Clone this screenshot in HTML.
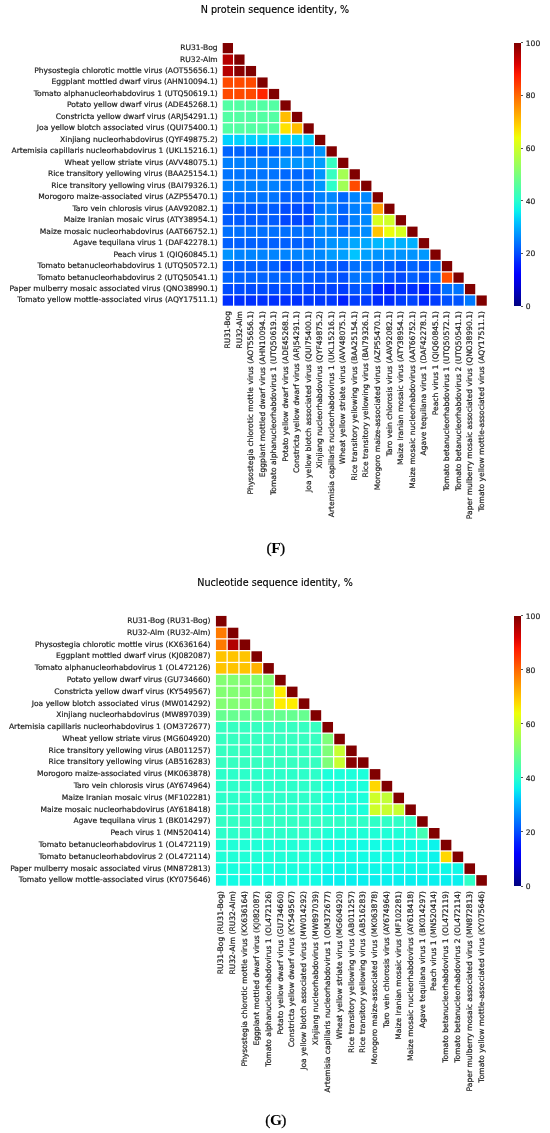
<!DOCTYPE html>
<html lang="en"><head><meta charset="utf-8"><title>Sequence identity heatmaps</title>
<style>
html,body{margin:0;padding:0;background:#fff;}
body{width:550px;height:1133px;position:relative;overflow:hidden;font-family:"DejaVu Sans","Liberation Sans",sans-serif;color:#1a1a1a;}
.t{position:absolute;white-space:nowrap;line-height:1;}
.title{font-size:9.6px;color:#000;-webkit-text-stroke:0.15px #000;text-align:center;left:0;width:550px;}
.yl{font-size:7.57px;-webkit-text-stroke:0.18px #1a1a1a;text-align:right;left:0;}
.xl{font-size:7.57px;-webkit-text-stroke:0.18px #1a1a1a;transform-origin:0 0;transform:rotate(-90deg);text-align:right;}
.cb{position:absolute;}
.tk{position:absolute;background:#555;height:0.7px;width:2.4px;}
.cl{font-size:7.57px;-webkit-text-stroke:0.18px #1a1a1a;}
.cap{font-family:"Liberation Serif","DejaVu Serif",serif;font-size:15.4px;text-align:center;left:0.6px;width:550px;color:#000;letter-spacing:-0.55px;}
.cap span{-webkit-text-stroke:0.25px #000;}
svg{position:absolute;left:0;top:0;}
</style></head><body>

<div class="t title" style="top:5.2px">N protein sequence identity, %</div>
<svg width="550" height="1133" viewBox="0 0 550 1133" style="pointer-events:none">
<rect x="222.72" y="43.02" width="10.28" height="10.22" fill="#800000"/>
<rect x="222.72" y="54.50" width="10.28" height="10.22" fill="#b60000"/>
<rect x="234.26" y="54.50" width="10.28" height="10.22" fill="#800000"/>
<rect x="222.72" y="65.97" width="10.28" height="10.22" fill="#b60000"/>
<rect x="234.26" y="65.97" width="10.28" height="10.22" fill="#890000"/>
<rect x="245.79" y="65.97" width="10.28" height="10.22" fill="#800000"/>
<rect x="222.72" y="77.45" width="10.28" height="10.22" fill="#ff4a00"/>
<rect x="234.26" y="77.45" width="10.28" height="10.22" fill="#ff4a00"/>
<rect x="245.79" y="77.45" width="10.28" height="10.22" fill="#ff4a00"/>
<rect x="257.33" y="77.45" width="10.28" height="10.22" fill="#800000"/>
<rect x="222.72" y="88.92" width="10.28" height="10.22" fill="#ff4a00"/>
<rect x="234.26" y="88.92" width="10.28" height="10.22" fill="#ff4a00"/>
<rect x="245.79" y="88.92" width="10.28" height="10.22" fill="#ff4a00"/>
<rect x="257.33" y="88.92" width="10.28" height="10.22" fill="#ff2500"/>
<rect x="268.86" y="88.92" width="10.28" height="10.22" fill="#800000"/>
<rect x="222.72" y="100.39" width="10.28" height="10.22" fill="#53ffa4"/>
<rect x="234.26" y="100.39" width="10.28" height="10.22" fill="#53ffa4"/>
<rect x="245.79" y="100.39" width="10.28" height="10.22" fill="#53ffa4"/>
<rect x="257.33" y="100.39" width="10.28" height="10.22" fill="#53ffa4"/>
<rect x="268.86" y="100.39" width="10.28" height="10.22" fill="#53ffa4"/>
<rect x="280.40" y="100.39" width="10.28" height="10.22" fill="#800000"/>
<rect x="222.72" y="111.87" width="10.28" height="10.22" fill="#53ffa4"/>
<rect x="234.26" y="111.87" width="10.28" height="10.22" fill="#53ffa4"/>
<rect x="245.79" y="111.87" width="10.28" height="10.22" fill="#53ffa4"/>
<rect x="257.33" y="111.87" width="10.28" height="10.22" fill="#53ffa4"/>
<rect x="268.86" y="111.87" width="10.28" height="10.22" fill="#53ffa4"/>
<rect x="280.40" y="111.87" width="10.28" height="10.22" fill="#ffbd00"/>
<rect x="291.93" y="111.87" width="10.28" height="10.22" fill="#800000"/>
<rect x="222.72" y="123.34" width="10.28" height="10.22" fill="#53ffa4"/>
<rect x="234.26" y="123.34" width="10.28" height="10.22" fill="#53ffa4"/>
<rect x="245.79" y="123.34" width="10.28" height="10.22" fill="#53ffa4"/>
<rect x="257.33" y="123.34" width="10.28" height="10.22" fill="#53ffa4"/>
<rect x="268.86" y="123.34" width="10.28" height="10.22" fill="#53ffa4"/>
<rect x="280.40" y="123.34" width="10.28" height="10.22" fill="#ffe200"/>
<rect x="291.93" y="123.34" width="10.28" height="10.22" fill="#ffbd00"/>
<rect x="303.47" y="123.34" width="10.28" height="10.22" fill="#800000"/>
<rect x="222.72" y="134.82" width="10.28" height="10.22" fill="#00d0ff"/>
<rect x="234.26" y="134.82" width="10.28" height="10.22" fill="#00d0ff"/>
<rect x="245.79" y="134.82" width="10.28" height="10.22" fill="#00d0ff"/>
<rect x="257.33" y="134.82" width="10.28" height="10.22" fill="#00d0ff"/>
<rect x="268.86" y="134.82" width="10.28" height="10.22" fill="#00d0ff"/>
<rect x="280.40" y="134.82" width="10.28" height="10.22" fill="#00d0ff"/>
<rect x="291.93" y="134.82" width="10.28" height="10.22" fill="#00d0ff"/>
<rect x="303.47" y="134.82" width="10.28" height="10.22" fill="#00d0ff"/>
<rect x="315.00" y="134.82" width="10.28" height="10.22" fill="#800000"/>
<rect x="222.72" y="146.29" width="10.28" height="10.22" fill="#0064ff"/>
<rect x="234.26" y="146.29" width="10.28" height="10.22" fill="#0064ff"/>
<rect x="245.79" y="146.29" width="10.28" height="10.22" fill="#0064ff"/>
<rect x="257.33" y="146.29" width="10.28" height="10.22" fill="#0064ff"/>
<rect x="268.86" y="146.29" width="10.28" height="10.22" fill="#0064ff"/>
<rect x="280.40" y="146.29" width="10.28" height="10.22" fill="#0074ff"/>
<rect x="291.93" y="146.29" width="10.28" height="10.22" fill="#0074ff"/>
<rect x="303.47" y="146.29" width="10.28" height="10.22" fill="#0074ff"/>
<rect x="315.00" y="146.29" width="10.28" height="10.22" fill="#0094ff"/>
<rect x="326.54" y="146.29" width="10.28" height="10.22" fill="#800000"/>
<rect x="222.72" y="157.76" width="10.28" height="10.22" fill="#0080ff"/>
<rect x="234.26" y="157.76" width="10.28" height="10.22" fill="#0080ff"/>
<rect x="245.79" y="157.76" width="10.28" height="10.22" fill="#0080ff"/>
<rect x="257.33" y="157.76" width="10.28" height="10.22" fill="#0080ff"/>
<rect x="268.86" y="157.76" width="10.28" height="10.22" fill="#0080ff"/>
<rect x="280.40" y="157.76" width="10.28" height="10.22" fill="#0094ff"/>
<rect x="291.93" y="157.76" width="10.28" height="10.22" fill="#0094ff"/>
<rect x="303.47" y="157.76" width="10.28" height="10.22" fill="#0094ff"/>
<rect x="315.00" y="157.76" width="10.28" height="10.22" fill="#009cff"/>
<rect x="326.54" y="157.76" width="10.28" height="10.22" fill="#36ffc1"/>
<rect x="338.07" y="157.76" width="10.28" height="10.22" fill="#800000"/>
<rect x="222.72" y="169.24" width="10.28" height="10.22" fill="#0074ff"/>
<rect x="234.26" y="169.24" width="10.28" height="10.22" fill="#0074ff"/>
<rect x="245.79" y="169.24" width="10.28" height="10.22" fill="#0074ff"/>
<rect x="257.33" y="169.24" width="10.28" height="10.22" fill="#0074ff"/>
<rect x="268.86" y="169.24" width="10.28" height="10.22" fill="#0074ff"/>
<rect x="280.40" y="169.24" width="10.28" height="10.22" fill="#0068ff"/>
<rect x="291.93" y="169.24" width="10.28" height="10.22" fill="#0068ff"/>
<rect x="303.47" y="169.24" width="10.28" height="10.22" fill="#0068ff"/>
<rect x="315.00" y="169.24" width="10.28" height="10.22" fill="#0094ff"/>
<rect x="326.54" y="169.24" width="10.28" height="10.22" fill="#36ffc1"/>
<rect x="338.07" y="169.24" width="10.28" height="10.22" fill="#a4ff53"/>
<rect x="349.61" y="169.24" width="10.28" height="10.22" fill="#800000"/>
<rect x="222.72" y="180.71" width="10.28" height="10.22" fill="#0080ff"/>
<rect x="234.26" y="180.71" width="10.28" height="10.22" fill="#0080ff"/>
<rect x="245.79" y="180.71" width="10.28" height="10.22" fill="#0080ff"/>
<rect x="257.33" y="180.71" width="10.28" height="10.22" fill="#0080ff"/>
<rect x="268.86" y="180.71" width="10.28" height="10.22" fill="#0080ff"/>
<rect x="280.40" y="180.71" width="10.28" height="10.22" fill="#0074ff"/>
<rect x="291.93" y="180.71" width="10.28" height="10.22" fill="#0074ff"/>
<rect x="303.47" y="180.71" width="10.28" height="10.22" fill="#0074ff"/>
<rect x="315.00" y="180.71" width="10.28" height="10.22" fill="#0094ff"/>
<rect x="326.54" y="180.71" width="10.28" height="10.22" fill="#2cffca"/>
<rect x="338.07" y="180.71" width="10.28" height="10.22" fill="#a0ff56"/>
<rect x="349.61" y="180.71" width="10.28" height="10.22" fill="#ff4a00"/>
<rect x="361.14" y="180.71" width="10.28" height="10.22" fill="#800000"/>
<rect x="222.72" y="192.19" width="10.28" height="10.22" fill="#0074ff"/>
<rect x="234.26" y="192.19" width="10.28" height="10.22" fill="#0074ff"/>
<rect x="245.79" y="192.19" width="10.28" height="10.22" fill="#0074ff"/>
<rect x="257.33" y="192.19" width="10.28" height="10.22" fill="#0074ff"/>
<rect x="268.86" y="192.19" width="10.28" height="10.22" fill="#0074ff"/>
<rect x="280.40" y="192.19" width="10.28" height="10.22" fill="#0060ff"/>
<rect x="291.93" y="192.19" width="10.28" height="10.22" fill="#0060ff"/>
<rect x="303.47" y="192.19" width="10.28" height="10.22" fill="#0060ff"/>
<rect x="315.00" y="192.19" width="10.28" height="10.22" fill="#0080ff"/>
<rect x="326.54" y="192.19" width="10.28" height="10.22" fill="#0088ff"/>
<rect x="338.07" y="192.19" width="10.28" height="10.22" fill="#0068ff"/>
<rect x="349.61" y="192.19" width="10.28" height="10.22" fill="#0084ff"/>
<rect x="361.14" y="192.19" width="10.28" height="10.22" fill="#0088ff"/>
<rect x="372.68" y="192.19" width="10.28" height="10.22" fill="#800000"/>
<rect x="222.72" y="203.66" width="10.28" height="10.22" fill="#005cff"/>
<rect x="234.26" y="203.66" width="10.28" height="10.22" fill="#005cff"/>
<rect x="245.79" y="203.66" width="10.28" height="10.22" fill="#005cff"/>
<rect x="257.33" y="203.66" width="10.28" height="10.22" fill="#005cff"/>
<rect x="268.86" y="203.66" width="10.28" height="10.22" fill="#005cff"/>
<rect x="280.40" y="203.66" width="10.28" height="10.22" fill="#004cff"/>
<rect x="291.93" y="203.66" width="10.28" height="10.22" fill="#004cff"/>
<rect x="303.47" y="203.66" width="10.28" height="10.22" fill="#004cff"/>
<rect x="315.00" y="203.66" width="10.28" height="10.22" fill="#0078ff"/>
<rect x="326.54" y="203.66" width="10.28" height="10.22" fill="#0084ff"/>
<rect x="338.07" y="203.66" width="10.28" height="10.22" fill="#0064ff"/>
<rect x="349.61" y="203.66" width="10.28" height="10.22" fill="#0080ff"/>
<rect x="361.14" y="203.66" width="10.28" height="10.22" fill="#0080ff"/>
<rect x="372.68" y="203.66" width="10.28" height="10.22" fill="#ff9f00"/>
<rect x="384.21" y="203.66" width="10.28" height="10.22" fill="#800000"/>
<rect x="222.72" y="215.13" width="10.28" height="10.22" fill="#005cff"/>
<rect x="234.26" y="215.13" width="10.28" height="10.22" fill="#005cff"/>
<rect x="245.79" y="215.13" width="10.28" height="10.22" fill="#005cff"/>
<rect x="257.33" y="215.13" width="10.28" height="10.22" fill="#005cff"/>
<rect x="268.86" y="215.13" width="10.28" height="10.22" fill="#005cff"/>
<rect x="280.40" y="215.13" width="10.28" height="10.22" fill="#0048ff"/>
<rect x="291.93" y="215.13" width="10.28" height="10.22" fill="#0048ff"/>
<rect x="303.47" y="215.13" width="10.28" height="10.22" fill="#0048ff"/>
<rect x="315.00" y="215.13" width="10.28" height="10.22" fill="#008cff"/>
<rect x="326.54" y="215.13" width="10.28" height="10.22" fill="#0088ff"/>
<rect x="338.07" y="215.13" width="10.28" height="10.22" fill="#005cff"/>
<rect x="349.61" y="215.13" width="10.28" height="10.22" fill="#0080ff"/>
<rect x="361.14" y="215.13" width="10.28" height="10.22" fill="#0088ff"/>
<rect x="372.68" y="215.13" width="10.28" height="10.22" fill="#d7ff1f"/>
<rect x="384.21" y="215.13" width="10.28" height="10.22" fill="#ceff29"/>
<rect x="395.75" y="215.13" width="10.28" height="10.22" fill="#800000"/>
<rect x="222.72" y="226.61" width="10.28" height="10.22" fill="#0070ff"/>
<rect x="234.26" y="226.61" width="10.28" height="10.22" fill="#0070ff"/>
<rect x="245.79" y="226.61" width="10.28" height="10.22" fill="#0070ff"/>
<rect x="257.33" y="226.61" width="10.28" height="10.22" fill="#0070ff"/>
<rect x="268.86" y="226.61" width="10.28" height="10.22" fill="#0070ff"/>
<rect x="280.40" y="226.61" width="10.28" height="10.22" fill="#0070ff"/>
<rect x="291.93" y="226.61" width="10.28" height="10.22" fill="#0070ff"/>
<rect x="303.47" y="226.61" width="10.28" height="10.22" fill="#0070ff"/>
<rect x="315.00" y="226.61" width="10.28" height="10.22" fill="#0088ff"/>
<rect x="326.54" y="226.61" width="10.28" height="10.22" fill="#0084ff"/>
<rect x="338.07" y="226.61" width="10.28" height="10.22" fill="#0070ff"/>
<rect x="349.61" y="226.61" width="10.28" height="10.22" fill="#0088ff"/>
<rect x="361.14" y="226.61" width="10.28" height="10.22" fill="#008cff"/>
<rect x="372.68" y="226.61" width="10.28" height="10.22" fill="#ffc400"/>
<rect x="384.21" y="226.61" width="10.28" height="10.22" fill="#ebff0c"/>
<rect x="395.75" y="226.61" width="10.28" height="10.22" fill="#d7ff1f"/>
<rect x="407.28" y="226.61" width="10.28" height="10.22" fill="#800000"/>
<rect x="222.72" y="238.08" width="10.28" height="10.22" fill="#0060ff"/>
<rect x="234.26" y="238.08" width="10.28" height="10.22" fill="#0060ff"/>
<rect x="245.79" y="238.08" width="10.28" height="10.22" fill="#0060ff"/>
<rect x="257.33" y="238.08" width="10.28" height="10.22" fill="#0060ff"/>
<rect x="268.86" y="238.08" width="10.28" height="10.22" fill="#0060ff"/>
<rect x="280.40" y="238.08" width="10.28" height="10.22" fill="#0060ff"/>
<rect x="291.93" y="238.08" width="10.28" height="10.22" fill="#0060ff"/>
<rect x="303.47" y="238.08" width="10.28" height="10.22" fill="#0060ff"/>
<rect x="315.00" y="238.08" width="10.28" height="10.22" fill="#0080ff"/>
<rect x="326.54" y="238.08" width="10.28" height="10.22" fill="#0094ff"/>
<rect x="338.07" y="238.08" width="10.28" height="10.22" fill="#0098ff"/>
<rect x="349.61" y="238.08" width="10.28" height="10.22" fill="#00a8ff"/>
<rect x="361.14" y="238.08" width="10.28" height="10.22" fill="#00a8ff"/>
<rect x="372.68" y="238.08" width="10.28" height="10.22" fill="#00b8ff"/>
<rect x="384.21" y="238.08" width="10.28" height="10.22" fill="#00b8ff"/>
<rect x="395.75" y="238.08" width="10.28" height="10.22" fill="#00b0ff"/>
<rect x="407.28" y="238.08" width="10.28" height="10.22" fill="#00b0ff"/>
<rect x="418.82" y="238.08" width="10.28" height="10.22" fill="#800000"/>
<rect x="222.72" y="249.56" width="10.28" height="10.22" fill="#0094ff"/>
<rect x="234.26" y="249.56" width="10.28" height="10.22" fill="#0084ff"/>
<rect x="245.79" y="249.56" width="10.28" height="10.22" fill="#0084ff"/>
<rect x="257.33" y="249.56" width="10.28" height="10.22" fill="#0084ff"/>
<rect x="268.86" y="249.56" width="10.28" height="10.22" fill="#0084ff"/>
<rect x="280.40" y="249.56" width="10.28" height="10.22" fill="#0084ff"/>
<rect x="291.93" y="249.56" width="10.28" height="10.22" fill="#0084ff"/>
<rect x="303.47" y="249.56" width="10.28" height="10.22" fill="#0084ff"/>
<rect x="315.00" y="249.56" width="10.28" height="10.22" fill="#0088ff"/>
<rect x="326.54" y="249.56" width="10.28" height="10.22" fill="#009cff"/>
<rect x="338.07" y="249.56" width="10.28" height="10.22" fill="#00a0ff"/>
<rect x="349.61" y="249.56" width="10.28" height="10.22" fill="#00c4ff"/>
<rect x="361.14" y="249.56" width="10.28" height="10.22" fill="#00a0ff"/>
<rect x="372.68" y="249.56" width="10.28" height="10.22" fill="#0094ff"/>
<rect x="384.21" y="249.56" width="10.28" height="10.22" fill="#0094ff"/>
<rect x="395.75" y="249.56" width="10.28" height="10.22" fill="#0094ff"/>
<rect x="407.28" y="249.56" width="10.28" height="10.22" fill="#0094ff"/>
<rect x="418.82" y="249.56" width="10.28" height="10.22" fill="#0098ff"/>
<rect x="430.35" y="249.56" width="10.28" height="10.22" fill="#800000"/>
<rect x="222.72" y="261.03" width="10.28" height="10.22" fill="#0060ff"/>
<rect x="234.26" y="261.03" width="10.28" height="10.22" fill="#0060ff"/>
<rect x="245.79" y="261.03" width="10.28" height="10.22" fill="#0060ff"/>
<rect x="257.33" y="261.03" width="10.28" height="10.22" fill="#0060ff"/>
<rect x="268.86" y="261.03" width="10.28" height="10.22" fill="#0060ff"/>
<rect x="280.40" y="261.03" width="10.28" height="10.22" fill="#0044ff"/>
<rect x="291.93" y="261.03" width="10.28" height="10.22" fill="#0050ff"/>
<rect x="303.47" y="261.03" width="10.28" height="10.22" fill="#0060ff"/>
<rect x="315.00" y="261.03" width="10.28" height="10.22" fill="#0060ff"/>
<rect x="326.54" y="261.03" width="10.28" height="10.22" fill="#0060ff"/>
<rect x="338.07" y="261.03" width="10.28" height="10.22" fill="#0054ff"/>
<rect x="349.61" y="261.03" width="10.28" height="10.22" fill="#0070ff"/>
<rect x="361.14" y="261.03" width="10.28" height="10.22" fill="#0070ff"/>
<rect x="372.68" y="261.03" width="10.28" height="10.22" fill="#0064ff"/>
<rect x="384.21" y="261.03" width="10.28" height="10.22" fill="#005cff"/>
<rect x="395.75" y="261.03" width="10.28" height="10.22" fill="#0050ff"/>
<rect x="407.28" y="261.03" width="10.28" height="10.22" fill="#0064ff"/>
<rect x="418.82" y="261.03" width="10.28" height="10.22" fill="#0054ff"/>
<rect x="430.35" y="261.03" width="10.28" height="10.22" fill="#0070ff"/>
<rect x="441.89" y="261.03" width="10.28" height="10.22" fill="#800000"/>
<rect x="222.72" y="272.50" width="10.28" height="10.22" fill="#0064ff"/>
<rect x="234.26" y="272.50" width="10.28" height="10.22" fill="#0064ff"/>
<rect x="245.79" y="272.50" width="10.28" height="10.22" fill="#0064ff"/>
<rect x="257.33" y="272.50" width="10.28" height="10.22" fill="#0064ff"/>
<rect x="268.86" y="272.50" width="10.28" height="10.22" fill="#0064ff"/>
<rect x="280.40" y="272.50" width="10.28" height="10.22" fill="#0064ff"/>
<rect x="291.93" y="272.50" width="10.28" height="10.22" fill="#0064ff"/>
<rect x="303.47" y="272.50" width="10.28" height="10.22" fill="#005cff"/>
<rect x="315.00" y="272.50" width="10.28" height="10.22" fill="#005cff"/>
<rect x="326.54" y="272.50" width="10.28" height="10.22" fill="#005cff"/>
<rect x="338.07" y="272.50" width="10.28" height="10.22" fill="#0050ff"/>
<rect x="349.61" y="272.50" width="10.28" height="10.22" fill="#0074ff"/>
<rect x="361.14" y="272.50" width="10.28" height="10.22" fill="#0074ff"/>
<rect x="372.68" y="272.50" width="10.28" height="10.22" fill="#0064ff"/>
<rect x="384.21" y="272.50" width="10.28" height="10.22" fill="#0054ff"/>
<rect x="395.75" y="272.50" width="10.28" height="10.22" fill="#004cff"/>
<rect x="407.28" y="272.50" width="10.28" height="10.22" fill="#0060ff"/>
<rect x="418.82" y="272.50" width="10.28" height="10.22" fill="#0050ff"/>
<rect x="430.35" y="272.50" width="10.28" height="10.22" fill="#0070ff"/>
<rect x="441.89" y="272.50" width="10.28" height="10.22" fill="#ff4e00"/>
<rect x="453.42" y="272.50" width="10.28" height="10.22" fill="#800000"/>
<rect x="222.72" y="283.98" width="10.28" height="10.22" fill="#004cff"/>
<rect x="234.26" y="283.98" width="10.28" height="10.22" fill="#004cff"/>
<rect x="245.79" y="283.98" width="10.28" height="10.22" fill="#004cff"/>
<rect x="257.33" y="283.98" width="10.28" height="10.22" fill="#004cff"/>
<rect x="268.86" y="283.98" width="10.28" height="10.22" fill="#004cff"/>
<rect x="280.40" y="283.98" width="10.28" height="10.22" fill="#004cff"/>
<rect x="291.93" y="283.98" width="10.28" height="10.22" fill="#004cff"/>
<rect x="303.47" y="283.98" width="10.28" height="10.22" fill="#0044ff"/>
<rect x="315.00" y="283.98" width="10.28" height="10.22" fill="#0044ff"/>
<rect x="326.54" y="283.98" width="10.28" height="10.22" fill="#0044ff"/>
<rect x="338.07" y="283.98" width="10.28" height="10.22" fill="#003cff"/>
<rect x="349.61" y="283.98" width="10.28" height="10.22" fill="#0054ff"/>
<rect x="361.14" y="283.98" width="10.28" height="10.22" fill="#0054ff"/>
<rect x="372.68" y="283.98" width="10.28" height="10.22" fill="#0028ff"/>
<rect x="384.21" y="283.98" width="10.28" height="10.22" fill="#0020ff"/>
<rect x="395.75" y="283.98" width="10.28" height="10.22" fill="#0030ff"/>
<rect x="407.28" y="283.98" width="10.28" height="10.22" fill="#0030ff"/>
<rect x="418.82" y="283.98" width="10.28" height="10.22" fill="#0020ff"/>
<rect x="430.35" y="283.98" width="10.28" height="10.22" fill="#0044ff"/>
<rect x="441.89" y="283.98" width="10.28" height="10.22" fill="#0070ff"/>
<rect x="453.42" y="283.98" width="10.28" height="10.22" fill="#0074ff"/>
<rect x="464.96" y="283.98" width="10.28" height="10.22" fill="#800000"/>
<rect x="222.72" y="295.45" width="10.28" height="10.22" fill="#0030ff"/>
<rect x="234.26" y="295.45" width="10.28" height="10.22" fill="#0030ff"/>
<rect x="245.79" y="295.45" width="10.28" height="10.22" fill="#0030ff"/>
<rect x="257.33" y="295.45" width="10.28" height="10.22" fill="#0030ff"/>
<rect x="268.86" y="295.45" width="10.28" height="10.22" fill="#0030ff"/>
<rect x="280.40" y="295.45" width="10.28" height="10.22" fill="#0030ff"/>
<rect x="291.93" y="295.45" width="10.28" height="10.22" fill="#0030ff"/>
<rect x="303.47" y="295.45" width="10.28" height="10.22" fill="#0038ff"/>
<rect x="315.00" y="295.45" width="10.28" height="10.22" fill="#0038ff"/>
<rect x="326.54" y="295.45" width="10.28" height="10.22" fill="#0038ff"/>
<rect x="338.07" y="295.45" width="10.28" height="10.22" fill="#0020ff"/>
<rect x="349.61" y="295.45" width="10.28" height="10.22" fill="#003cff"/>
<rect x="361.14" y="295.45" width="10.28" height="10.22" fill="#003cff"/>
<rect x="372.68" y="295.45" width="10.28" height="10.22" fill="#002cff"/>
<rect x="384.21" y="295.45" width="10.28" height="10.22" fill="#002cff"/>
<rect x="395.75" y="295.45" width="10.28" height="10.22" fill="#003cff"/>
<rect x="407.28" y="295.45" width="10.28" height="10.22" fill="#0044ff"/>
<rect x="418.82" y="295.45" width="10.28" height="10.22" fill="#0028ff"/>
<rect x="430.35" y="295.45" width="10.28" height="10.22" fill="#003cff"/>
<rect x="441.89" y="295.45" width="10.28" height="10.22" fill="#0050ff"/>
<rect x="453.42" y="295.45" width="10.28" height="10.22" fill="#0054ff"/>
<rect x="464.96" y="295.45" width="10.28" height="10.22" fill="#0078ff"/>
<rect x="476.49" y="295.45" width="10.28" height="10.22" fill="#800000"/>
</svg>
<div class="t yl" style="top:44.04px;width:217.7px">RU31-Bog</div>
<div class="t yl" style="top:55.51px;width:217.7px">RU32-Alm</div>
<div class="t yl" style="top:66.98px;width:217.7px">Physostegia chlorotic mottle virus (AOT55656.1)</div>
<div class="t yl" style="top:78.46px;width:217.7px">Eggplant mottled dwarf virus (AHN10094.1)</div>
<div class="t yl" style="top:89.93px;width:217.7px">Tomato alphanucleorhabdovirus 1 (UTQ50619.1)</div>
<div class="t yl" style="top:101.41px;width:217.7px">Potato yellow dwarf virus (ADE45268.1)</div>
<div class="t yl" style="top:112.88px;width:217.7px">Constricta yellow dwarf virus (ARJ54291.1)</div>
<div class="t yl" style="top:124.35px;width:217.7px">Joa yellow blotch associated virus (QUI75400.1)</div>
<div class="t yl" style="top:135.83px;width:217.7px">Xinjiang nucleorhabdovirus (QYF49875.2)</div>
<div class="t yl" style="top:147.30px;width:217.7px">Artemisia capillaris nucleorhabdovirus 1 (UKL15216.1)</div>
<div class="t yl" style="top:158.78px;width:217.7px">Wheat yellow striate virus (AVV48075.1)</div>
<div class="t yl" style="top:170.25px;width:217.7px">Rice transitory yellowing virus (BAA25154.1)</div>
<div class="t yl" style="top:181.72px;width:217.7px">Rice transitory yellowing virus (BAI79326.1)</div>
<div class="t yl" style="top:193.20px;width:217.7px">Morogoro maize-associated virus (AZP55470.1)</div>
<div class="t yl" style="top:204.67px;width:217.7px">Taro vein chlorosis virus (AAV92082.1)</div>
<div class="t yl" style="top:216.15px;width:217.7px">Maize Iranian mosaic virus (ATY38954.1)</div>
<div class="t yl" style="top:227.62px;width:217.7px">Maize mosaic nucleorhabdovirus (AAT66752.1)</div>
<div class="t yl" style="top:239.09px;width:217.7px">Agave tequilana virus 1 (DAF42278.1)</div>
<div class="t yl" style="top:250.57px;width:217.7px">Peach virus 1 (QIQ60845.1)</div>
<div class="t yl" style="top:262.04px;width:217.7px">Tomato betanucleorhabdovirus 1 (UTQ50572.1)</div>
<div class="t yl" style="top:273.52px;width:217.7px">Tomato betanucleorhabdovirus 2 (UTQ50541.1)</div>
<div class="t yl" style="top:284.99px;width:217.7px">Paper mulberry mosaic associated virus (QNO38990.1)</div>
<div class="t yl" style="top:296.46px;width:217.7px">Tomato yellow mottle-associated virus (AQY17511.1)</div>
<div class="t xl" style="left:224.07px;top:541.2px;width:230px">RU31-Bog</div>
<div class="t xl" style="left:235.60px;top:541.2px;width:230px">RU32-Alm</div>
<div class="t xl" style="left:247.14px;top:541.2px;width:230px">Physostegia chlorotic mottle virus (AOT55656.1)</div>
<div class="t xl" style="left:258.67px;top:541.2px;width:230px">Eggplant mottled dwarf virus (AHN10094.1)</div>
<div class="t xl" style="left:270.21px;top:541.2px;width:230px">Tomato alphanucleorhabdovirus 1 (UTQ50619.1)</div>
<div class="t xl" style="left:281.74px;top:541.2px;width:230px">Potato yellow dwarf virus (ADE45268.1)</div>
<div class="t xl" style="left:293.28px;top:541.2px;width:230px">Constricta yellow dwarf virus (ARJ54291.1)</div>
<div class="t xl" style="left:304.81px;top:541.2px;width:230px">Joa yellow blotch associated virus (QUI75400.1)</div>
<div class="t xl" style="left:316.35px;top:541.2px;width:230px">Xinjiang nucleorhabdovirus (QYF49875.2)</div>
<div class="t xl" style="left:327.88px;top:541.2px;width:230px">Artemisia capillaris nucleorhabdovirus 1 (UKL15216.1)</div>
<div class="t xl" style="left:339.42px;top:541.2px;width:230px">Wheat yellow striate virus (AVV48075.1)</div>
<div class="t xl" style="left:350.95px;top:541.2px;width:230px">Rice transitory yellowing virus (BAA25154.1)</div>
<div class="t xl" style="left:362.48px;top:541.2px;width:230px">Rice transitory yellowing virus (BAI79326.1)</div>
<div class="t xl" style="left:374.02px;top:541.2px;width:230px">Morogoro maize-associated virus (AZP55470.1)</div>
<div class="t xl" style="left:385.55px;top:541.2px;width:230px">Taro vein chlorosis virus (AAV92082.1)</div>
<div class="t xl" style="left:397.09px;top:541.2px;width:230px">Maize Iranian mosaic virus (ATY38954.1)</div>
<div class="t xl" style="left:408.62px;top:541.2px;width:230px">Maize mosaic nucleorhabdovirus (AAT66752.1)</div>
<div class="t xl" style="left:420.16px;top:541.2px;width:230px">Agave tequilana virus 1 (DAF42278.1)</div>
<div class="t xl" style="left:431.69px;top:541.2px;width:230px">Peach virus 1 (QIQ60845.1)</div>
<div class="t xl" style="left:443.23px;top:541.2px;width:230px">Tomato betanucleorhabdovirus 1 (UTQ50572.1)</div>
<div class="t xl" style="left:454.76px;top:541.2px;width:230px">Tomato betanucleorhabdovirus 2 (UTQ50541.1)</div>
<div class="t xl" style="left:466.30px;top:541.2px;width:230px">Paper mulberry mosaic associated virus (QNO38990.1)</div>
<div class="t xl" style="left:477.83px;top:541.2px;width:230px">Tomato yellow mottle-associated virus (AQY17511.1)</div>
<div class="cb" style="left:513.6px;top:42.6px;width:7.3px;height:263.2px;background:linear-gradient(to bottom,#800000 0%,#ad0000 4%,#da0000 8%,#ff1a00 12%,#ff3f00 16%,#ff6800 20%,#ff8d00 24%,#ffb200 28%,#ffd700 32%,#eeff09 36%,#ceff29 40%,#adff49 44%,#8dff6a 48%,#6aff8d 52%,#49ffad 56%,#29ffce 60%,#09f0ee 64%,#00c4ff 68%,#009cff 72%,#0074ff 76%,#004cff 80%,#0020ff 84%,#0000ff 88%,#0000da 92%,#0000ad 96%,#000080 100%)"></div>
<div class="tk" style="left:520.9px;top:305.5px"></div>
<div class="t cl" style="left:525.8px;top:303.0px">0</div>
<div class="tk" style="left:520.9px;top:252.8px"></div>
<div class="t cl" style="left:525.8px;top:250.3px">20</div>
<div class="tk" style="left:520.9px;top:200.1px"></div>
<div class="t cl" style="left:525.8px;top:197.6px">40</div>
<div class="tk" style="left:520.9px;top:147.5px"></div>
<div class="t cl" style="left:525.8px;top:145.0px">60</div>
<div class="tk" style="left:520.9px;top:94.8px"></div>
<div class="t cl" style="left:525.8px;top:92.3px">80</div>
<div class="tk" style="left:520.9px;top:42.1px"></div>
<div class="t cl" style="left:525.8px;top:39.6px">100</div>
<div class="t cap" style="top:539.6px"><span>(</span><b>F</b><span>)</span></div>
<div class="t title" style="top:577.8px">Nucleotide sequence identity, %</div>
<svg width="550" height="1133" viewBox="0 0 550 1133" style="pointer-events:none">
<rect x="215.93" y="615.92" width="10.58" height="10.53" fill="#800000"/>
<rect x="215.93" y="627.71" width="10.58" height="10.53" fill="#ff7a00"/>
<rect x="227.76" y="627.71" width="10.58" height="10.53" fill="#800000"/>
<rect x="215.93" y="639.49" width="10.58" height="10.53" fill="#ff7a00"/>
<rect x="227.76" y="639.49" width="10.58" height="10.53" fill="#b20000"/>
<rect x="239.59" y="639.49" width="10.58" height="10.53" fill="#800000"/>
<rect x="215.93" y="651.27" width="10.58" height="10.53" fill="#ffc400"/>
<rect x="227.76" y="651.27" width="10.58" height="10.53" fill="#ffc400"/>
<rect x="239.59" y="651.27" width="10.58" height="10.53" fill="#ffc400"/>
<rect x="251.43" y="651.27" width="10.58" height="10.53" fill="#800000"/>
<rect x="215.93" y="663.06" width="10.58" height="10.53" fill="#ffc400"/>
<rect x="227.76" y="663.06" width="10.58" height="10.53" fill="#ffc400"/>
<rect x="239.59" y="663.06" width="10.58" height="10.53" fill="#ffc400"/>
<rect x="251.43" y="663.06" width="10.58" height="10.53" fill="#ffb200"/>
<rect x="263.26" y="663.06" width="10.58" height="10.53" fill="#800000"/>
<rect x="215.93" y="674.84" width="10.58" height="10.53" fill="#83ff73"/>
<rect x="227.76" y="674.84" width="10.58" height="10.53" fill="#83ff73"/>
<rect x="239.59" y="674.84" width="10.58" height="10.53" fill="#83ff73"/>
<rect x="251.43" y="674.84" width="10.58" height="10.53" fill="#83ff73"/>
<rect x="263.26" y="674.84" width="10.58" height="10.53" fill="#83ff73"/>
<rect x="275.10" y="674.84" width="10.58" height="10.53" fill="#800000"/>
<rect x="215.93" y="686.62" width="10.58" height="10.53" fill="#83ff73"/>
<rect x="227.76" y="686.62" width="10.58" height="10.53" fill="#83ff73"/>
<rect x="239.59" y="686.62" width="10.58" height="10.53" fill="#83ff73"/>
<rect x="251.43" y="686.62" width="10.58" height="10.53" fill="#83ff73"/>
<rect x="263.26" y="686.62" width="10.58" height="10.53" fill="#83ff73"/>
<rect x="275.10" y="686.62" width="10.58" height="10.53" fill="#feed00"/>
<rect x="286.93" y="686.62" width="10.58" height="10.53" fill="#800000"/>
<rect x="215.93" y="698.40" width="10.58" height="10.53" fill="#83ff73"/>
<rect x="227.76" y="698.40" width="10.58" height="10.53" fill="#83ff73"/>
<rect x="239.59" y="698.40" width="10.58" height="10.53" fill="#83ff73"/>
<rect x="251.43" y="698.40" width="10.58" height="10.53" fill="#83ff73"/>
<rect x="263.26" y="698.40" width="10.58" height="10.53" fill="#83ff73"/>
<rect x="275.10" y="698.40" width="10.58" height="10.53" fill="#feed00"/>
<rect x="286.93" y="698.40" width="10.58" height="10.53" fill="#feed00"/>
<rect x="298.77" y="698.40" width="10.58" height="10.53" fill="#800000"/>
<rect x="215.93" y="710.19" width="10.58" height="10.53" fill="#66ff90"/>
<rect x="227.76" y="710.19" width="10.58" height="10.53" fill="#66ff90"/>
<rect x="239.59" y="710.19" width="10.58" height="10.53" fill="#66ff90"/>
<rect x="251.43" y="710.19" width="10.58" height="10.53" fill="#66ff90"/>
<rect x="263.26" y="710.19" width="10.58" height="10.53" fill="#66ff90"/>
<rect x="275.10" y="710.19" width="10.58" height="10.53" fill="#66ff90"/>
<rect x="286.93" y="710.19" width="10.58" height="10.53" fill="#66ff90"/>
<rect x="298.77" y="710.19" width="10.58" height="10.53" fill="#66ff90"/>
<rect x="310.60" y="710.19" width="10.58" height="10.53" fill="#800000"/>
<rect x="215.93" y="721.97" width="10.58" height="10.53" fill="#36ffc1"/>
<rect x="227.76" y="721.97" width="10.58" height="10.53" fill="#36ffc1"/>
<rect x="239.59" y="721.97" width="10.58" height="10.53" fill="#36ffc1"/>
<rect x="251.43" y="721.97" width="10.58" height="10.53" fill="#36ffc1"/>
<rect x="263.26" y="721.97" width="10.58" height="10.53" fill="#36ffc1"/>
<rect x="275.10" y="721.97" width="10.58" height="10.53" fill="#36ffc1"/>
<rect x="286.93" y="721.97" width="10.58" height="10.53" fill="#36ffc1"/>
<rect x="298.77" y="721.97" width="10.58" height="10.53" fill="#36ffc1"/>
<rect x="310.60" y="721.97" width="10.58" height="10.53" fill="#36ffc1"/>
<rect x="322.44" y="721.97" width="10.58" height="10.53" fill="#800000"/>
<rect x="215.93" y="733.75" width="10.58" height="10.53" fill="#36ffc1"/>
<rect x="227.76" y="733.75" width="10.58" height="10.53" fill="#36ffc1"/>
<rect x="239.59" y="733.75" width="10.58" height="10.53" fill="#36ffc1"/>
<rect x="251.43" y="733.75" width="10.58" height="10.53" fill="#36ffc1"/>
<rect x="263.26" y="733.75" width="10.58" height="10.53" fill="#36ffc1"/>
<rect x="275.10" y="733.75" width="10.58" height="10.53" fill="#36ffc1"/>
<rect x="286.93" y="733.75" width="10.58" height="10.53" fill="#36ffc1"/>
<rect x="298.77" y="733.75" width="10.58" height="10.53" fill="#36ffc1"/>
<rect x="310.60" y="733.75" width="10.58" height="10.53" fill="#36ffc1"/>
<rect x="322.44" y="733.75" width="10.58" height="10.53" fill="#7dff7a"/>
<rect x="334.27" y="733.75" width="10.58" height="10.53" fill="#800000"/>
<rect x="215.93" y="745.53" width="10.58" height="10.53" fill="#36ffc1"/>
<rect x="227.76" y="745.53" width="10.58" height="10.53" fill="#36ffc1"/>
<rect x="239.59" y="745.53" width="10.58" height="10.53" fill="#36ffc1"/>
<rect x="251.43" y="745.53" width="10.58" height="10.53" fill="#36ffc1"/>
<rect x="263.26" y="745.53" width="10.58" height="10.53" fill="#36ffc1"/>
<rect x="275.10" y="745.53" width="10.58" height="10.53" fill="#36ffc1"/>
<rect x="286.93" y="745.53" width="10.58" height="10.53" fill="#36ffc1"/>
<rect x="298.77" y="745.53" width="10.58" height="10.53" fill="#36ffc1"/>
<rect x="310.60" y="745.53" width="10.58" height="10.53" fill="#36ffc1"/>
<rect x="322.44" y="745.53" width="10.58" height="10.53" fill="#7dff7a"/>
<rect x="334.27" y="745.53" width="10.58" height="10.53" fill="#c7ff30"/>
<rect x="346.11" y="745.53" width="10.58" height="10.53" fill="#800000"/>
<rect x="215.93" y="757.32" width="10.58" height="10.53" fill="#36ffc1"/>
<rect x="227.76" y="757.32" width="10.58" height="10.53" fill="#36ffc1"/>
<rect x="239.59" y="757.32" width="10.58" height="10.53" fill="#36ffc1"/>
<rect x="251.43" y="757.32" width="10.58" height="10.53" fill="#36ffc1"/>
<rect x="263.26" y="757.32" width="10.58" height="10.53" fill="#36ffc1"/>
<rect x="275.10" y="757.32" width="10.58" height="10.53" fill="#36ffc1"/>
<rect x="286.93" y="757.32" width="10.58" height="10.53" fill="#36ffc1"/>
<rect x="298.77" y="757.32" width="10.58" height="10.53" fill="#36ffc1"/>
<rect x="310.60" y="757.32" width="10.58" height="10.53" fill="#36ffc1"/>
<rect x="322.44" y="757.32" width="10.58" height="10.53" fill="#7dff7a"/>
<rect x="334.27" y="757.32" width="10.58" height="10.53" fill="#c7ff30"/>
<rect x="346.11" y="757.32" width="10.58" height="10.53" fill="#890000"/>
<rect x="357.94" y="757.32" width="10.58" height="10.53" fill="#800000"/>
<rect x="215.93" y="769.10" width="10.58" height="10.53" fill="#2cffca"/>
<rect x="227.76" y="769.10" width="10.58" height="10.53" fill="#2cffca"/>
<rect x="239.59" y="769.10" width="10.58" height="10.53" fill="#2cffca"/>
<rect x="251.43" y="769.10" width="10.58" height="10.53" fill="#2cffca"/>
<rect x="263.26" y="769.10" width="10.58" height="10.53" fill="#2cffca"/>
<rect x="275.10" y="769.10" width="10.58" height="10.53" fill="#2cffca"/>
<rect x="286.93" y="769.10" width="10.58" height="10.53" fill="#2cffca"/>
<rect x="298.77" y="769.10" width="10.58" height="10.53" fill="#2cffca"/>
<rect x="310.60" y="769.10" width="10.58" height="10.53" fill="#2cffca"/>
<rect x="322.44" y="769.10" width="10.58" height="10.53" fill="#1cffdb"/>
<rect x="334.27" y="769.10" width="10.58" height="10.53" fill="#1cffdb"/>
<rect x="346.11" y="769.10" width="10.58" height="10.53" fill="#1cffdb"/>
<rect x="357.94" y="769.10" width="10.58" height="10.53" fill="#1cffdb"/>
<rect x="369.78" y="769.10" width="10.58" height="10.53" fill="#800000"/>
<rect x="215.93" y="780.88" width="10.58" height="10.53" fill="#2cffca"/>
<rect x="227.76" y="780.88" width="10.58" height="10.53" fill="#2cffca"/>
<rect x="239.59" y="780.88" width="10.58" height="10.53" fill="#2cffca"/>
<rect x="251.43" y="780.88" width="10.58" height="10.53" fill="#2cffca"/>
<rect x="263.26" y="780.88" width="10.58" height="10.53" fill="#2cffca"/>
<rect x="275.10" y="780.88" width="10.58" height="10.53" fill="#2cffca"/>
<rect x="286.93" y="780.88" width="10.58" height="10.53" fill="#2cffca"/>
<rect x="298.77" y="780.88" width="10.58" height="10.53" fill="#2cffca"/>
<rect x="310.60" y="780.88" width="10.58" height="10.53" fill="#2cffca"/>
<rect x="322.44" y="780.88" width="10.58" height="10.53" fill="#1cffdb"/>
<rect x="334.27" y="780.88" width="10.58" height="10.53" fill="#1cffdb"/>
<rect x="346.11" y="780.88" width="10.58" height="10.53" fill="#1cffdb"/>
<rect x="357.94" y="780.88" width="10.58" height="10.53" fill="#1cffdb"/>
<rect x="369.78" y="780.88" width="10.58" height="10.53" fill="#ffd700"/>
<rect x="381.61" y="780.88" width="10.58" height="10.53" fill="#800000"/>
<rect x="215.93" y="792.66" width="10.58" height="10.53" fill="#2cffca"/>
<rect x="227.76" y="792.66" width="10.58" height="10.53" fill="#2cffca"/>
<rect x="239.59" y="792.66" width="10.58" height="10.53" fill="#2cffca"/>
<rect x="251.43" y="792.66" width="10.58" height="10.53" fill="#2cffca"/>
<rect x="263.26" y="792.66" width="10.58" height="10.53" fill="#2cffca"/>
<rect x="275.10" y="792.66" width="10.58" height="10.53" fill="#2cffca"/>
<rect x="286.93" y="792.66" width="10.58" height="10.53" fill="#2cffca"/>
<rect x="298.77" y="792.66" width="10.58" height="10.53" fill="#2cffca"/>
<rect x="310.60" y="792.66" width="10.58" height="10.53" fill="#2cffca"/>
<rect x="322.44" y="792.66" width="10.58" height="10.53" fill="#1cffdb"/>
<rect x="334.27" y="792.66" width="10.58" height="10.53" fill="#1cffdb"/>
<rect x="346.11" y="792.66" width="10.58" height="10.53" fill="#1cffdb"/>
<rect x="357.94" y="792.66" width="10.58" height="10.53" fill="#1cffdb"/>
<rect x="369.78" y="792.66" width="10.58" height="10.53" fill="#ceff29"/>
<rect x="381.61" y="792.66" width="10.58" height="10.53" fill="#c1ff36"/>
<rect x="393.45" y="792.66" width="10.58" height="10.53" fill="#800000"/>
<rect x="215.93" y="804.45" width="10.58" height="10.53" fill="#2cffca"/>
<rect x="227.76" y="804.45" width="10.58" height="10.53" fill="#2cffca"/>
<rect x="239.59" y="804.45" width="10.58" height="10.53" fill="#2cffca"/>
<rect x="251.43" y="804.45" width="10.58" height="10.53" fill="#2cffca"/>
<rect x="263.26" y="804.45" width="10.58" height="10.53" fill="#2cffca"/>
<rect x="275.10" y="804.45" width="10.58" height="10.53" fill="#2cffca"/>
<rect x="286.93" y="804.45" width="10.58" height="10.53" fill="#2cffca"/>
<rect x="298.77" y="804.45" width="10.58" height="10.53" fill="#2cffca"/>
<rect x="310.60" y="804.45" width="10.58" height="10.53" fill="#2cffca"/>
<rect x="322.44" y="804.45" width="10.58" height="10.53" fill="#1cffdb"/>
<rect x="334.27" y="804.45" width="10.58" height="10.53" fill="#1cffdb"/>
<rect x="346.11" y="804.45" width="10.58" height="10.53" fill="#1cffdb"/>
<rect x="357.94" y="804.45" width="10.58" height="10.53" fill="#1cffdb"/>
<rect x="369.78" y="804.45" width="10.58" height="10.53" fill="#ceff29"/>
<rect x="381.61" y="804.45" width="10.58" height="10.53" fill="#c7ff30"/>
<rect x="393.45" y="804.45" width="10.58" height="10.53" fill="#c7ff30"/>
<rect x="405.28" y="804.45" width="10.58" height="10.53" fill="#800000"/>
<rect x="215.93" y="816.23" width="10.58" height="10.53" fill="#33ffc4"/>
<rect x="227.76" y="816.23" width="10.58" height="10.53" fill="#33ffc4"/>
<rect x="239.59" y="816.23" width="10.58" height="10.53" fill="#33ffc4"/>
<rect x="251.43" y="816.23" width="10.58" height="10.53" fill="#33ffc4"/>
<rect x="263.26" y="816.23" width="10.58" height="10.53" fill="#33ffc4"/>
<rect x="275.10" y="816.23" width="10.58" height="10.53" fill="#33ffc4"/>
<rect x="286.93" y="816.23" width="10.58" height="10.53" fill="#33ffc4"/>
<rect x="298.77" y="816.23" width="10.58" height="10.53" fill="#33ffc4"/>
<rect x="310.60" y="816.23" width="10.58" height="10.53" fill="#33ffc4"/>
<rect x="322.44" y="816.23" width="10.58" height="10.53" fill="#30ffc7"/>
<rect x="334.27" y="816.23" width="10.58" height="10.53" fill="#30ffc7"/>
<rect x="346.11" y="816.23" width="10.58" height="10.53" fill="#30ffc7"/>
<rect x="357.94" y="816.23" width="10.58" height="10.53" fill="#30ffc7"/>
<rect x="369.78" y="816.23" width="10.58" height="10.53" fill="#30ffc7"/>
<rect x="381.61" y="816.23" width="10.58" height="10.53" fill="#30ffc7"/>
<rect x="393.45" y="816.23" width="10.58" height="10.53" fill="#30ffc7"/>
<rect x="405.28" y="816.23" width="10.58" height="10.53" fill="#30ffc7"/>
<rect x="417.12" y="816.23" width="10.58" height="10.53" fill="#800000"/>
<rect x="215.93" y="828.01" width="10.58" height="10.53" fill="#2cffca"/>
<rect x="227.76" y="828.01" width="10.58" height="10.53" fill="#2cffca"/>
<rect x="239.59" y="828.01" width="10.58" height="10.53" fill="#2cffca"/>
<rect x="251.43" y="828.01" width="10.58" height="10.53" fill="#2cffca"/>
<rect x="263.26" y="828.01" width="10.58" height="10.53" fill="#2cffca"/>
<rect x="275.10" y="828.01" width="10.58" height="10.53" fill="#2cffca"/>
<rect x="286.93" y="828.01" width="10.58" height="10.53" fill="#2cffca"/>
<rect x="298.77" y="828.01" width="10.58" height="10.53" fill="#2cffca"/>
<rect x="310.60" y="828.01" width="10.58" height="10.53" fill="#2cffca"/>
<rect x="322.44" y="828.01" width="10.58" height="10.53" fill="#1fffd7"/>
<rect x="334.27" y="828.01" width="10.58" height="10.53" fill="#1fffd7"/>
<rect x="346.11" y="828.01" width="10.58" height="10.53" fill="#1fffd7"/>
<rect x="357.94" y="828.01" width="10.58" height="10.53" fill="#1fffd7"/>
<rect x="369.78" y="828.01" width="10.58" height="10.53" fill="#1fffd7"/>
<rect x="381.61" y="828.01" width="10.58" height="10.53" fill="#1fffd7"/>
<rect x="393.45" y="828.01" width="10.58" height="10.53" fill="#1fffd7"/>
<rect x="405.28" y="828.01" width="10.58" height="10.53" fill="#1fffd7"/>
<rect x="417.12" y="828.01" width="10.58" height="10.53" fill="#43ffb4"/>
<rect x="428.95" y="828.01" width="10.58" height="10.53" fill="#800000"/>
<rect x="215.93" y="839.79" width="10.58" height="10.53" fill="#1fffd7"/>
<rect x="227.76" y="839.79" width="10.58" height="10.53" fill="#1fffd7"/>
<rect x="239.59" y="839.79" width="10.58" height="10.53" fill="#1fffd7"/>
<rect x="251.43" y="839.79" width="10.58" height="10.53" fill="#1fffd7"/>
<rect x="263.26" y="839.79" width="10.58" height="10.53" fill="#1fffd7"/>
<rect x="275.10" y="839.79" width="10.58" height="10.53" fill="#1fffd7"/>
<rect x="286.93" y="839.79" width="10.58" height="10.53" fill="#1fffd7"/>
<rect x="298.77" y="839.79" width="10.58" height="10.53" fill="#1fffd7"/>
<rect x="310.60" y="839.79" width="10.58" height="10.53" fill="#1fffd7"/>
<rect x="322.44" y="839.79" width="10.58" height="10.53" fill="#13fce4"/>
<rect x="334.27" y="839.79" width="10.58" height="10.53" fill="#13fce4"/>
<rect x="346.11" y="839.79" width="10.58" height="10.53" fill="#13fce4"/>
<rect x="357.94" y="839.79" width="10.58" height="10.53" fill="#13fce4"/>
<rect x="369.78" y="839.79" width="10.58" height="10.53" fill="#13fce4"/>
<rect x="381.61" y="839.79" width="10.58" height="10.53" fill="#13fce4"/>
<rect x="393.45" y="839.79" width="10.58" height="10.53" fill="#13fce4"/>
<rect x="405.28" y="839.79" width="10.58" height="10.53" fill="#13fce4"/>
<rect x="417.12" y="839.79" width="10.58" height="10.53" fill="#13fce4"/>
<rect x="428.95" y="839.79" width="10.58" height="10.53" fill="#0cf4eb"/>
<rect x="440.79" y="839.79" width="10.58" height="10.53" fill="#800000"/>
<rect x="215.93" y="851.58" width="10.58" height="10.53" fill="#1fffd7"/>
<rect x="227.76" y="851.58" width="10.58" height="10.53" fill="#1fffd7"/>
<rect x="239.59" y="851.58" width="10.58" height="10.53" fill="#1fffd7"/>
<rect x="251.43" y="851.58" width="10.58" height="10.53" fill="#1fffd7"/>
<rect x="263.26" y="851.58" width="10.58" height="10.53" fill="#1fffd7"/>
<rect x="275.10" y="851.58" width="10.58" height="10.53" fill="#1fffd7"/>
<rect x="286.93" y="851.58" width="10.58" height="10.53" fill="#1fffd7"/>
<rect x="298.77" y="851.58" width="10.58" height="10.53" fill="#1fffd7"/>
<rect x="310.60" y="851.58" width="10.58" height="10.53" fill="#1fffd7"/>
<rect x="322.44" y="851.58" width="10.58" height="10.53" fill="#13fce4"/>
<rect x="334.27" y="851.58" width="10.58" height="10.53" fill="#13fce4"/>
<rect x="346.11" y="851.58" width="10.58" height="10.53" fill="#13fce4"/>
<rect x="357.94" y="851.58" width="10.58" height="10.53" fill="#13fce4"/>
<rect x="369.78" y="851.58" width="10.58" height="10.53" fill="#13fce4"/>
<rect x="381.61" y="851.58" width="10.58" height="10.53" fill="#13fce4"/>
<rect x="393.45" y="851.58" width="10.58" height="10.53" fill="#13fce4"/>
<rect x="405.28" y="851.58" width="10.58" height="10.53" fill="#13fce4"/>
<rect x="417.12" y="851.58" width="10.58" height="10.53" fill="#13fce4"/>
<rect x="428.95" y="851.58" width="10.58" height="10.53" fill="#0cf4eb"/>
<rect x="440.79" y="851.58" width="10.58" height="10.53" fill="#ffd700"/>
<rect x="452.62" y="851.58" width="10.58" height="10.53" fill="#800000"/>
<rect x="215.93" y="863.36" width="10.58" height="10.53" fill="#19ffde"/>
<rect x="227.76" y="863.36" width="10.58" height="10.53" fill="#19ffde"/>
<rect x="239.59" y="863.36" width="10.58" height="10.53" fill="#19ffde"/>
<rect x="251.43" y="863.36" width="10.58" height="10.53" fill="#19ffde"/>
<rect x="263.26" y="863.36" width="10.58" height="10.53" fill="#19ffde"/>
<rect x="275.10" y="863.36" width="10.58" height="10.53" fill="#19ffde"/>
<rect x="286.93" y="863.36" width="10.58" height="10.53" fill="#19ffde"/>
<rect x="298.77" y="863.36" width="10.58" height="10.53" fill="#19ffde"/>
<rect x="310.60" y="863.36" width="10.58" height="10.53" fill="#19ffde"/>
<rect x="322.44" y="863.36" width="10.58" height="10.53" fill="#0ff8e7"/>
<rect x="334.27" y="863.36" width="10.58" height="10.53" fill="#0ff8e7"/>
<rect x="346.11" y="863.36" width="10.58" height="10.53" fill="#0ff8e7"/>
<rect x="357.94" y="863.36" width="10.58" height="10.53" fill="#0ff8e7"/>
<rect x="369.78" y="863.36" width="10.58" height="10.53" fill="#0ff8e7"/>
<rect x="381.61" y="863.36" width="10.58" height="10.53" fill="#0ff8e7"/>
<rect x="393.45" y="863.36" width="10.58" height="10.53" fill="#0ff8e7"/>
<rect x="405.28" y="863.36" width="10.58" height="10.53" fill="#0ff8e7"/>
<rect x="417.12" y="863.36" width="10.58" height="10.53" fill="#0ff8e7"/>
<rect x="428.95" y="863.36" width="10.58" height="10.53" fill="#0ff8e7"/>
<rect x="440.79" y="863.36" width="10.58" height="10.53" fill="#0ff8e7"/>
<rect x="452.62" y="863.36" width="10.58" height="10.53" fill="#0ff8e7"/>
<rect x="464.46" y="863.36" width="10.58" height="10.53" fill="#800000"/>
<rect x="215.93" y="875.14" width="10.58" height="10.53" fill="#13fce4"/>
<rect x="227.76" y="875.14" width="10.58" height="10.53" fill="#13fce4"/>
<rect x="239.59" y="875.14" width="10.58" height="10.53" fill="#13fce4"/>
<rect x="251.43" y="875.14" width="10.58" height="10.53" fill="#13fce4"/>
<rect x="263.26" y="875.14" width="10.58" height="10.53" fill="#13fce4"/>
<rect x="275.10" y="875.14" width="10.58" height="10.53" fill="#13fce4"/>
<rect x="286.93" y="875.14" width="10.58" height="10.53" fill="#13fce4"/>
<rect x="298.77" y="875.14" width="10.58" height="10.53" fill="#13fce4"/>
<rect x="310.60" y="875.14" width="10.58" height="10.53" fill="#13fce4"/>
<rect x="322.44" y="875.14" width="10.58" height="10.53" fill="#09f0ee"/>
<rect x="334.27" y="875.14" width="10.58" height="10.53" fill="#09f0ee"/>
<rect x="346.11" y="875.14" width="10.58" height="10.53" fill="#09f0ee"/>
<rect x="357.94" y="875.14" width="10.58" height="10.53" fill="#09f0ee"/>
<rect x="369.78" y="875.14" width="10.58" height="10.53" fill="#09f0ee"/>
<rect x="381.61" y="875.14" width="10.58" height="10.53" fill="#09f0ee"/>
<rect x="393.45" y="875.14" width="10.58" height="10.53" fill="#09f0ee"/>
<rect x="405.28" y="875.14" width="10.58" height="10.53" fill="#09f0ee"/>
<rect x="417.12" y="875.14" width="10.58" height="10.53" fill="#09f0ee"/>
<rect x="428.95" y="875.14" width="10.58" height="10.53" fill="#09f0ee"/>
<rect x="440.79" y="875.14" width="10.58" height="10.53" fill="#09f0ee"/>
<rect x="452.62" y="875.14" width="10.58" height="10.53" fill="#09f0ee"/>
<rect x="464.46" y="875.14" width="10.58" height="10.53" fill="#30ffc7"/>
<rect x="476.29" y="875.14" width="10.58" height="10.53" fill="#800000"/>
</svg>
<div class="t yl" style="top:617.09px;width:210.5px">RU31-Bog (RU31-Bog)</div>
<div class="t yl" style="top:628.87px;width:210.5px">RU32-Alm (RU32-Alm)</div>
<div class="t yl" style="top:640.66px;width:210.5px">Physostegia chlorotic mottle virus (KX636164)</div>
<div class="t yl" style="top:652.44px;width:210.5px">Eggplant mottled dwarf virus (KJ082087)</div>
<div class="t yl" style="top:664.22px;width:210.5px">Tomato alphanucleorhabdovirus 1 (OL472126)</div>
<div class="t yl" style="top:676.00px;width:210.5px">Potato yellow dwarf virus (GU734660)</div>
<div class="t yl" style="top:687.79px;width:210.5px">Constricta yellow dwarf virus (KY549567)</div>
<div class="t yl" style="top:699.57px;width:210.5px">Joa yellow blotch associated virus (MW014292)</div>
<div class="t yl" style="top:711.35px;width:210.5px">Xinjiang nucleorhabdovirus (MW897039)</div>
<div class="t yl" style="top:723.13px;width:210.5px">Artemisia capillaris nucleorhabdovirus 1 (OM372677)</div>
<div class="t yl" style="top:734.92px;width:210.5px">Wheat yellow striate virus (MG604920)</div>
<div class="t yl" style="top:746.70px;width:210.5px">Rice transitory yellowing virus (AB011257)</div>
<div class="t yl" style="top:758.48px;width:210.5px">Rice transitory yellowing virus (AB516283)</div>
<div class="t yl" style="top:770.27px;width:210.5px">Morogoro maize-associated virus (MK063878)</div>
<div class="t yl" style="top:782.05px;width:210.5px">Taro vein chlorosis virus (AY674964)</div>
<div class="t yl" style="top:793.83px;width:210.5px">Maize Iranian mosaic virus (MF102281)</div>
<div class="t yl" style="top:805.61px;width:210.5px">Maize mosaic nucleorhabdovirus (AY618418)</div>
<div class="t yl" style="top:817.40px;width:210.5px">Agave tequilana virus 1 (BK014297)</div>
<div class="t yl" style="top:829.18px;width:210.5px">Peach virus 1 (MN520414)</div>
<div class="t yl" style="top:840.96px;width:210.5px">Tomato betanucleorhabdovirus 1 (OL472119)</div>
<div class="t yl" style="top:852.74px;width:210.5px">Tomato betanucleorhabdovirus 2 (OL472114)</div>
<div class="t yl" style="top:864.53px;width:210.5px">Paper mulberry mosaic associated virus (MN872813)</div>
<div class="t yl" style="top:876.31px;width:210.5px">Tomato yellow mottle-associated virus (KY075646)</div>
<div class="t xl" style="left:217.42px;top:1120.8px;width:230px">RU31-Bog (RU31-Bog)</div>
<div class="t xl" style="left:229.25px;top:1120.8px;width:230px">RU32-Alm (RU32-Alm)</div>
<div class="t xl" style="left:241.09px;top:1120.8px;width:230px">Physostegia chlorotic mottle virus (KX636164)</div>
<div class="t xl" style="left:252.92px;top:1120.8px;width:230px">Eggplant mottled dwarf virus (KJ082087)</div>
<div class="t xl" style="left:264.76px;top:1120.8px;width:230px">Tomato alphanucleorhabdovirus 1 (OL472126)</div>
<div class="t xl" style="left:276.59px;top:1120.8px;width:230px">Potato yellow dwarf virus (GU734660)</div>
<div class="t xl" style="left:288.43px;top:1120.8px;width:230px">Constricta yellow dwarf virus (KY549567)</div>
<div class="t xl" style="left:300.26px;top:1120.8px;width:230px">Joa yellow blotch associated virus (MW014292)</div>
<div class="t xl" style="left:312.10px;top:1120.8px;width:230px">Xinjiang nucleorhabdovirus (MW897039)</div>
<div class="t xl" style="left:323.93px;top:1120.8px;width:230px">Artemisia capillaris nucleorhabdovirus 1 (OM372677)</div>
<div class="t xl" style="left:335.77px;top:1120.8px;width:230px">Wheat yellow striate virus (MG604920)</div>
<div class="t xl" style="left:347.60px;top:1120.8px;width:230px">Rice transitory yellowing virus (AB011257)</div>
<div class="t xl" style="left:359.43px;top:1120.8px;width:230px">Rice transitory yellowing virus (AB516283)</div>
<div class="t xl" style="left:371.27px;top:1120.8px;width:230px">Morogoro maize-associated virus (MK063878)</div>
<div class="t xl" style="left:383.10px;top:1120.8px;width:230px">Taro vein chlorosis virus (AY674964)</div>
<div class="t xl" style="left:394.94px;top:1120.8px;width:230px">Maize Iranian mosaic virus (MF102281)</div>
<div class="t xl" style="left:406.77px;top:1120.8px;width:230px">Maize mosaic nucleorhabdovirus (AY618418)</div>
<div class="t xl" style="left:418.61px;top:1120.8px;width:230px">Agave tequilana virus 1 (BK014297)</div>
<div class="t xl" style="left:430.44px;top:1120.8px;width:230px">Peach virus 1 (MN520414)</div>
<div class="t xl" style="left:442.28px;top:1120.8px;width:230px">Tomato betanucleorhabdovirus 1 (OL472119)</div>
<div class="t xl" style="left:454.11px;top:1120.8px;width:230px">Tomato betanucleorhabdovirus 2 (OL472114)</div>
<div class="t xl" style="left:465.95px;top:1120.8px;width:230px">Paper mulberry mosaic associated virus (MN872813)</div>
<div class="t xl" style="left:477.78px;top:1120.8px;width:230px">Tomato yellow mottle-associated virus (KY075646)</div>
<div class="cb" style="left:513.6px;top:615.5px;width:7.3px;height:270.3px;background:linear-gradient(to bottom,#800000 0%,#ad0000 4%,#da0000 8%,#ff1a00 12%,#ff3f00 16%,#ff6800 20%,#ff8d00 24%,#ffb200 28%,#ffd700 32%,#eeff09 36%,#ceff29 40%,#adff49 44%,#8dff6a 48%,#6aff8d 52%,#49ffad 56%,#29ffce 60%,#09f0ee 64%,#00c4ff 68%,#009cff 72%,#0074ff 76%,#004cff 80%,#0020ff 84%,#0000ff 88%,#0000da 92%,#0000ad 96%,#000080 100%)"></div>
<div class="tk" style="left:520.9px;top:885.5px"></div>
<div class="t cl" style="left:525.8px;top:883.0px">0</div>
<div class="tk" style="left:520.9px;top:831.4px"></div>
<div class="t cl" style="left:525.8px;top:828.9px">20</div>
<div class="tk" style="left:520.9px;top:777.3px"></div>
<div class="t cl" style="left:525.8px;top:774.8px">40</div>
<div class="tk" style="left:520.9px;top:723.2px"></div>
<div class="t cl" style="left:525.8px;top:720.7px">60</div>
<div class="tk" style="left:520.9px;top:669.1px"></div>
<div class="t cl" style="left:525.8px;top:666.6px">80</div>
<div class="tk" style="left:520.9px;top:615.0px"></div>
<div class="t cl" style="left:525.8px;top:612.5px">100</div>
<div class="t cap" style="top:1112.3px"><span>(</span><b>G</b><span>)</span></div>
</body></html>
